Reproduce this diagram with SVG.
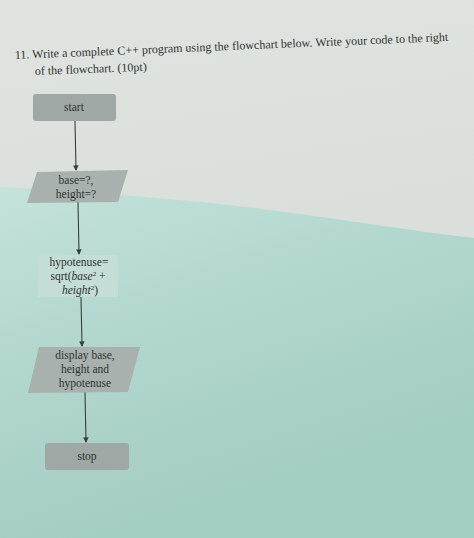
<svg xmlns="http://www.w3.org/2000/svg" width="474" height="538" viewBox="0 0 474 538">
<defs>
<linearGradient id="top" x1="0" y1="0" x2="0.3" y2="1">
<stop offset="0" stop-color="#e0e4e0"/>
<stop offset="1" stop-color="#dadfdb"/>
</linearGradient>
<linearGradient id="bot" x1="0" y1="0.3" x2="0.2" y2="1">
<stop offset="0" stop-color="#c6e4dc"/>
<stop offset="0.5" stop-color="#b2d7ce"/>
<stop offset="1" stop-color="#a4cdc3"/>
</linearGradient>
<marker id="ah" viewBox="0 0 6 6" refX="5" refY="3" markerWidth="5" markerHeight="5" orient="auto">
<path d="M0,0 L6,3 L0,6 z" fill="#3a3f3d"/>
</marker>
<style>
.t{font-family:"Liberation Serif","DejaVu Serif",serif;fill:#2e3332;}
.box{fill:#9fa8a4;}
.io{fill:#a8b1ad;}
.proc{fill:#c4ddd6;}
.ln{stroke:#3a3f3d;stroke-width:1.1;fill:none;marker-end:url(#ah);}
</style>
</defs>
<rect width="474" height="538" fill="url(#bot)"/>
<path d="M0,0 H474 V238 C400,230 300,212 200,202 C130,195 60,190 0,187 Z" fill="url(#top)"/>
<g id="title">
<text class="t" font-size="12" transform="translate(15,59) rotate(-2.4)">11. Write a complete C++ program using the flowchart below. Write your code to the right</text>
<text class="t" font-size="12" transform="translate(35,75) rotate(-2.2)">of the flowchart. (10pt)</text>
</g>
<g id="connectors">
<line class="ln" x1="75" y1="121" x2="76" y2="170"/>
<line class="ln" x1="78" y1="202" x2="79" y2="254"/>
<line class="ln" x1="81" y1="297" x2="82" y2="346"/>
<line class="ln" x1="85" y1="392" x2="86" y2="442"/>
</g>
<g id="start">
<rect class="box" x="33" y="94" width="83" height="27" rx="3"/>
<text class="t" font-size="11.5" x="74" y="111" text-anchor="middle">start</text>
</g>
<g id="input">
<polygon class="io" points="37,172 128,170 118,202 27,203"/>
<text class="t" font-size="11.5" x="76" y="184" text-anchor="middle">base=?,</text>
<text class="t" font-size="11.5" x="76" y="198" text-anchor="middle">height=?</text>
</g>
<g id="calc">
<rect class="proc" x="38" y="255" width="80" height="42"/>
<text class="t" font-size="11.5" x="79" y="266" text-anchor="middle">hypotenuse=</text>
<text class="t" font-size="11.5" x="78" y="280" text-anchor="middle">sqrt(<tspan font-style="italic">base</tspan><tspan font-size="7" dy="-4">2</tspan><tspan dy="4"> +</tspan></text>
<text class="t" font-size="11.5" x="80" y="294" text-anchor="middle"><tspan font-style="italic">height</tspan><tspan font-size="7" dy="-4">2</tspan><tspan dy="4">)</tspan></text>
</g>
<g id="output">
<polygon class="io" points="39,347 140,347 128,392 28,393"/>
<text class="t" font-size="11.5" x="85" y="359" text-anchor="middle">display base,</text>
<text class="t" font-size="11.5" x="85" y="373" text-anchor="middle">height and</text>
<text class="t" font-size="11.5" x="85" y="387" text-anchor="middle">hypotenuse</text>
</g>
<g id="stop">
<rect class="box" x="45" y="443" width="84" height="27" rx="3"/>
<text class="t" font-size="11.5" x="87" y="460" text-anchor="middle">stop</text>
</g>
</svg>
